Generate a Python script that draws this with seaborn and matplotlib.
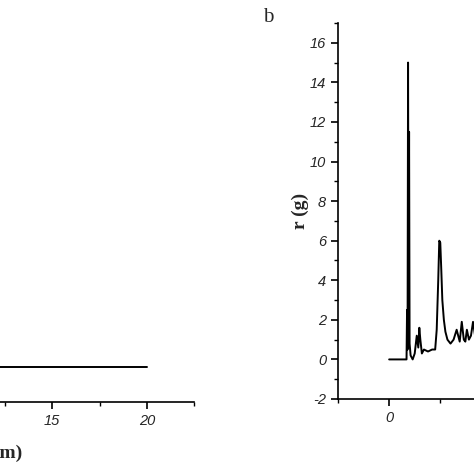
import matplotlib
matplotlib.use('Agg')
import matplotlib.pyplot as plt
import seaborn as sns
from matplotlib.ticker import MultipleLocator

sns.set_style('ticks')
plt.rcParams['axes.unicode_minus'] = False

# panel a: flat line (only part visible)
a_x = [-2.5, 20]
a_y = [0, 0]

# panel b: spectrum
b_x = [0, 1.7, 1.75, 1.8, 1.85, 1.9, 1.95, 2.0, 2.1, 2.3, 2.5, 2.7, 2.85, 2.95, 3.05, 3.2,
       3.4, 3.8, 4.2, 4.5, 4.65, 4.8, 4.9, 5.0, 5.1, 5.2, 5.35, 5.5, 5.7, 6.0, 6.3, 6.6, 6.75,
       6.9, 7.1, 7.3, 7.45, 7.6, 7.8, 8.0, 8.2, 8.4, 8.7, 9.0, 9.5, 10.0, 11.0, 12.0]
b_y = [0, 0, 2.5, 0.5, 15, 2, 11.5, 0.8, 0.2, 0.0, 0.3, 1.2, 0.6, 1.6, 1.0, 0.3,
       0.5, 0.4, 0.5, 0.5, 1.5, 4.0, 6.0, 5.9, 4.5, 3.0, 2.0, 1.4, 1.0, 0.8, 1.0, 1.5, 1.2,
       0.9, 1.9, 1.0, 0.9, 1.5, 1.0, 1.2, 1.9, 1.2, 1.0, 1.3, 1.0, 1.1, 1.0, 1.0]

fig = plt.figure(figsize=(4.74, 4.74), dpi=100)
tick_font = {'family': 'Liberation Sans', 'style': 'italic', 'size': 10.5}

ax1 = fig.add_axes([-0.59, 0.152, 1.0, 0.8])
sns.lineplot(x=a_x, y=a_y, ax=ax1, color='black', linewidth=1.4)
ax1.set_xlim(-2.5, 22.5)
ax1.set_ylim(-1, 9.83)
ax1.xaxis.set_major_locator(MultipleLocator(5))
ax1.xaxis.set_minor_locator(MultipleLocator(2.5))
ax1.set_yticks([])
for s in ['top', 'right', 'left']:
    ax1.spines[s].set_visible(False)

ax2 = fig.add_axes([338 / 474, 1 - 399 / 474, 0.41, 376 / 474])
sns.lineplot(x=b_x, y=b_y, ax=ax2, color='black', linewidth=1.4)
ax2.set_xlim(-5, 14)
ax2.set_ylim(-2, 17)
ax2.xaxis.set_major_locator(MultipleLocator(10))
ax2.xaxis.set_minor_locator(MultipleLocator(5))
ax2.yaxis.set_major_locator(MultipleLocator(2))
ax2.yaxis.set_minor_locator(MultipleLocator(1))
for s in ['top', 'right']:
    ax2.spines[s].set_visible(False)
ax2.set_ylabel('r (g)', family='Liberation Serif', fontweight='bold', fontsize=14, labelpad=1)

for ax in (ax1, ax2):
    ax.tick_params(which='both', direction='out', color='black')
    ax.tick_params(which='major', length=5, width=1.2)
    ax.tick_params(which='minor', length=3, width=1.0)
    for lab in ax.get_xticklabels() + ax.get_yticklabels():
        lab.set_fontproperties(tick_font)
    for s in ax.spines.values():
        s.set_linewidth(1.2)
        s.set_color('black')

fig.text(22 / 474, 1 - 453 / 474, 'r (nm)', ha='right', va='center',
         family='Liberation Serif', fontweight='bold', fontsize=14)
fig.text(268 / 474, 1 - 18 / 474, 'b', ha='center', va='center',
         family='Liberation Serif', fontsize=15)

fig.savefig('out.png', dpi=100)
